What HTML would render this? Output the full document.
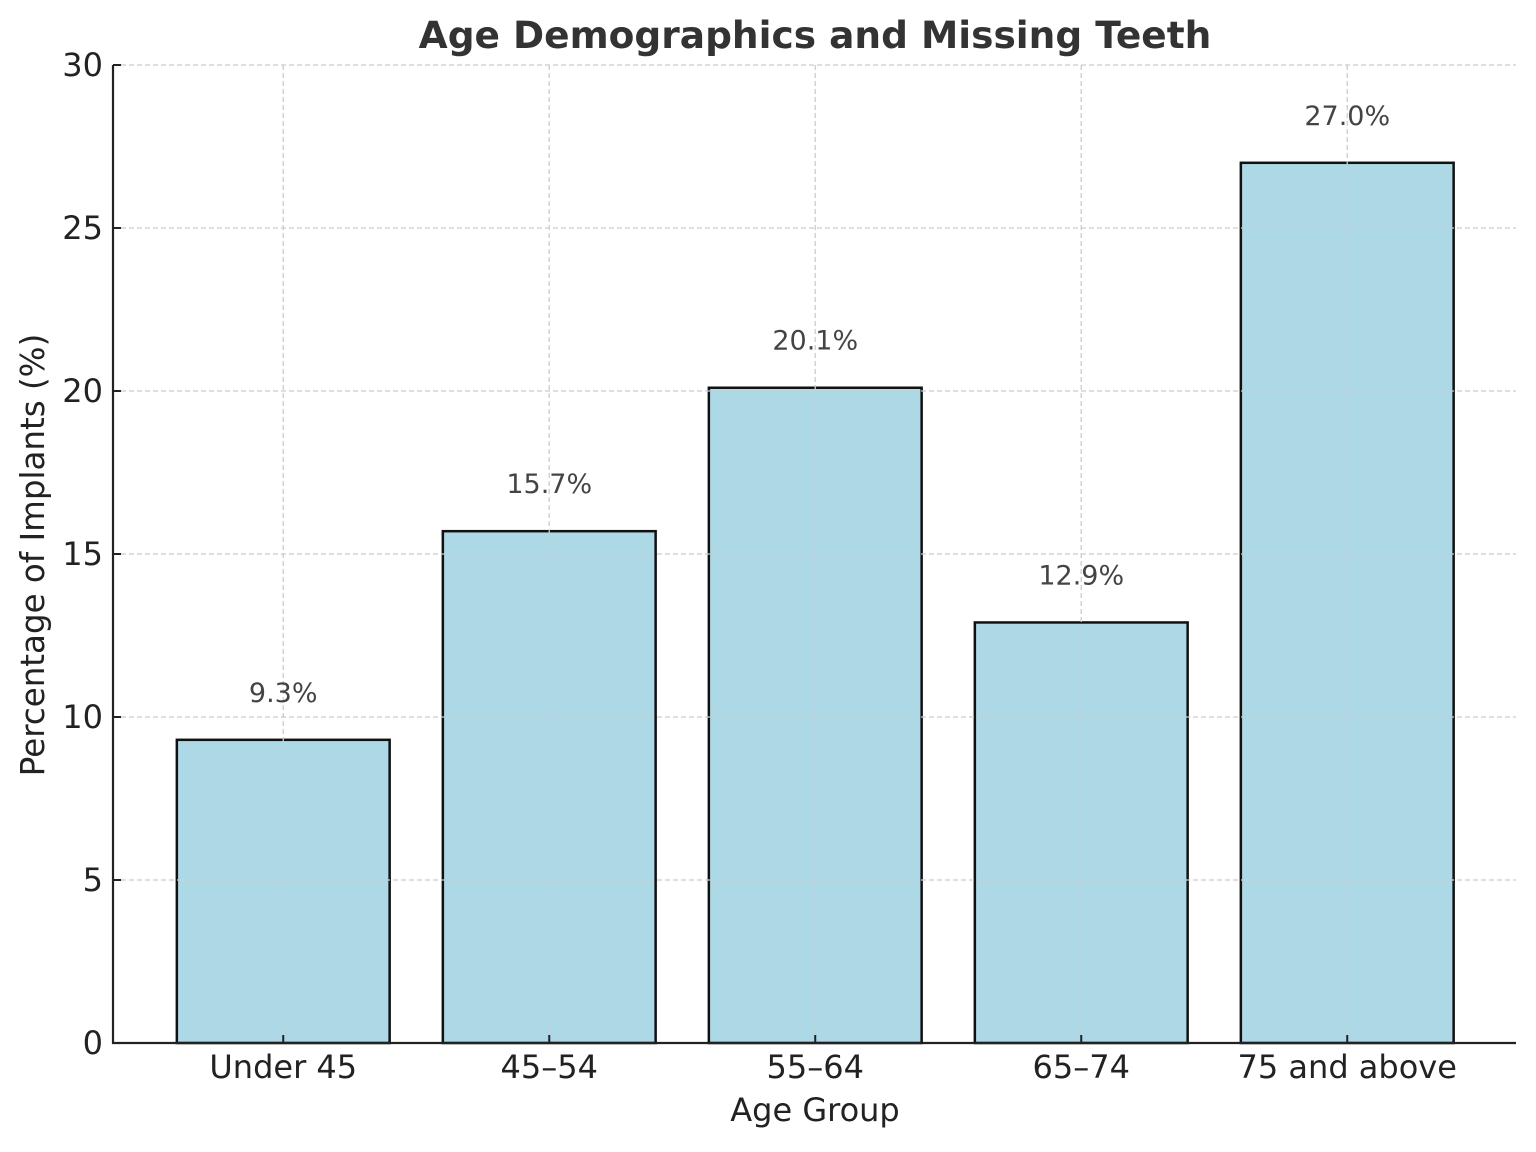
<!DOCTYPE html>
<html><head><meta charset="utf-8"><style>
html,body{margin:0;padding:0;background:#fff}
svg text{font-family:"DejaVu Sans","Liberation Sans",sans-serif}
</style></head><body>
<svg id="chart" width="1536" height="1147" viewBox="0 0 1536 1147" xmlns="http://www.w3.org/2000/svg">
<rect width="1536" height="1147" fill="#fff"/>
<text x="815" y="48" text-anchor="middle" font-size="37.5" font-weight="bold" fill="#333">Age Demographics and Missing Teeth</text>
<text x="815" y="1121" text-anchor="middle" font-size="32" fill="#222">Age Group</text>
<text transform="translate(44,555) rotate(-90)" text-anchor="middle" font-size="32.5" fill="#222">Percentage of Implants (%)</text>
<g id="grid"></g><g id="bars"></g><g id="gridTop"></g><g id="labels"></g><g id="axes"></g>
</svg>
<script>
const categories=["Under 45","45–54","55–64","65–74","75 and above"];
const values=[9.3,15.7,20.1,12.9,27.0];
const valueLabels=["9.3%","15.7%","20.1%","12.9%","27.0%"];
const yTicks=[0,5,10,15,20,25,30];
const NS="http://www.w3.org/2000/svg";
const L=113,R=1516,T=65,B=1043,yMax=30;
const y=v=>B-(v/yMax)*(B-T);
const step=266;
const xMin=-0.64;
const xc=i=>L+(i-xMin)*step;
const bw=step*0.8;
function mk(tag,attrs,parent){const e=document.createElementNS(NS,tag);for(const k in attrs)e.setAttribute(k,attrs[k]);document.getElementById(parent).appendChild(e);return e;}
yTicks.forEach((t,i)=>{
  if(t>0){const g=mk('line',{x1:L,x2:R,y1:y(t),y2:y(t),stroke:'#ccc','stroke-width':1.3,'stroke-dasharray':'5,3'},'gridTop');
  
  }
  const tk=mk('line',{x1:L,x2:L+8,y1:y(t),y2:y(t),stroke:'#222','stroke-width':2},'axes');
  
  
  const tx=mk('text',{x:L-10,y:y(t)+11,'text-anchor':'end','font-size':32,fill:'#222'},'axes');
  tx.textContent=t;
  
  
});
categories.forEach((c,i)=>{
  const b=mk('rect',{x:xc(i)-bw/2,y:y(values[i]),width:bw,height:B-y(values[i]),fill:'#add8e6',stroke:'#111','stroke-width':2.5},'bars');
  
  
  const g=mk('line',{x1:xc(i),x2:xc(i),y1:T,y2:B,stroke:'#ccc','stroke-width':1.3,'stroke-dasharray':'5,3'},'gridTop');
  
  
  const tk=mk('line',{x1:xc(i),x2:xc(i),y1:B,y2:B-8,stroke:'#222','stroke-width':2},'axes');
  
  
  const tx=mk('text',{x:xc(i),y:B+35,'text-anchor':'middle','font-size':32,fill:'#222'},'axes');
  tx.textContent=c;
  
  
  const vl=mk('text',{x:xc(i),y:y(values[i])-38,'text-anchor':'middle','font-size':27,fill:'#444'},'labels');
  vl.textContent=valueLabels[i];
  
  
});
const ax=mk('path',{d:`M${L},${T} L${L},${B} L${R},${B}`,fill:'none',stroke:'#222','stroke-width':2.2},'axes');


</script>
</body></html>
